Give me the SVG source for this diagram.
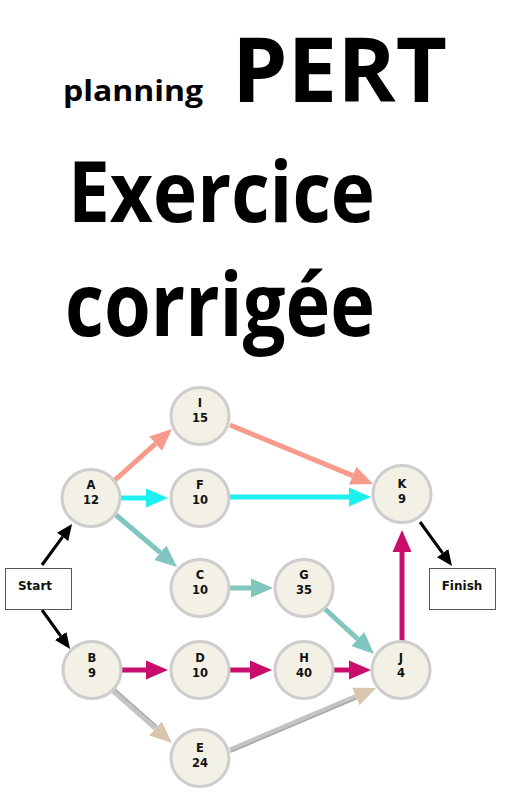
<svg xmlns="http://www.w3.org/2000/svg" width="510" height="809" viewBox="0 0 510 809">
<style>
.title{font-family:"Open Sans","Liberation Sans",Arial,sans-serif;font-weight:bold;fill:#000}
.node ellipse{fill:#f3f0e6;stroke:#cdcdcd;stroke-width:3}
.lbl{font-family:"DejaVu Sans",Verdana,sans-serif;font-weight:bold;font-size:11.5px;fill:#111;text-anchor:middle}
.box{fill:#fff;stroke:#555;stroke-width:1}
.boxt{font-family:"DejaVu Sans",Verdana,sans-serif;font-weight:bold;font-size:12px;fill:#111;text-anchor:middle}
.blk{stroke:#000;stroke-width:3;fill:none}
.sal{stroke:#f79a8a;stroke-width:5;fill:none}
.cya{stroke:#1ef0f0;stroke-width:5;fill:none}
.tea{stroke:#80c6be;stroke-width:5;fill:none}
.mag{stroke:#c90d6c;stroke-width:5;fill:none}
.gry{stroke:#c4c4c4;stroke-width:5;fill:none}
.gsh{stroke:#a6a6a6;stroke-width:1.5;fill:none}
</style>
<defs>
<marker id="mBlk" viewBox="0 -8 16 16" refX="0" refY="0" markerUnits="userSpaceOnUse" markerWidth="16" markerHeight="16" orient="auto"><path d="M0,-7 L16,0 L0,7 z" fill="#000"/></marker>
<marker id="mSal" viewBox="0 -10 22 20" refX="0" refY="0" markerUnits="userSpaceOnUse" markerWidth="22" markerHeight="20" orient="auto"><path d="M0,-9.5 L22,0 L0,9.5 z" fill="#f79a8a"/></marker>
<marker id="mCya" viewBox="0 -10 22 20" refX="0" refY="0" markerUnits="userSpaceOnUse" markerWidth="22" markerHeight="20" orient="auto"><path d="M0,-9.5 L22,0 L0,9.5 z" fill="#1ef0f0"/></marker>
<marker id="mTea" viewBox="0 -10 22 20" refX="0" refY="0" markerUnits="userSpaceOnUse" markerWidth="22" markerHeight="20" orient="auto"><path d="M0,-9.5 L22,0 L0,9.5 z" fill="#80c6be"/></marker>
<marker id="mMag" viewBox="0 -10 22 20" refX="0" refY="0" markerUnits="userSpaceOnUse" markerWidth="22" markerHeight="20" orient="auto"><path d="M0,-9.5 L22,0 L0,9.5 z" fill="#c90d6c"/></marker>
<marker id="mBei" viewBox="0 -10 22 20" refX="0" refY="0" markerUnits="userSpaceOnUse" markerWidth="22" markerHeight="20" orient="auto"><path d="M0,-9.5 L22,0 L0,9.5 z" fill="#d8c6af"/></marker>
</defs>
<rect width="510" height="809" fill="#fff"/>
<g id="title">
<text class="title" x="63" y="101" font-size="29" textLength="140" lengthAdjust="spacingAndGlyphs">planning</text>
<text class="title" x="232" y="102" font-size="90" textLength="215" lengthAdjust="spacingAndGlyphs">PERT</text>
<text class="title" x="68" y="222" font-size="84" textLength="307" lengthAdjust="spacingAndGlyphs">Exercice</text>
<text class="title" x="65" y="336" font-size="88" textLength="310" lengthAdjust="spacingAndGlyphs">corrigée</text>
</g>
<g id="connectors">
<line class="blk" x1="42" y1="565" x2="62.6" y2="536.9" marker-end="url(#mBlk)"/>
<line class="blk" x1="42" y1="610" x2="60.7" y2="636" marker-end="url(#mBlk)"/>
<line class="blk" x1="420" y1="522" x2="442.6" y2="553.1" marker-end="url(#mBlk)"/>
<line class="sal" x1="115" y1="480" x2="155.6" y2="443.7" marker-end="url(#mSal)"/>
<line class="cya" x1="121" y1="498" x2="146" y2="498" marker-end="url(#mCya)"/>
<line class="tea" x1="116" y1="515" x2="160.3" y2="552.7" marker-end="url(#mTea)"/>
<line class="sal" x1="230" y1="425" x2="352.7" y2="475.6" marker-end="url(#mSal)"/>
<line class="cya" x1="230" y1="497" x2="349" y2="497" marker-end="url(#mCya)"/>
<line class="mag" x1="402" y1="642" x2="402" y2="552" marker-end="url(#mMag)"/>
<line class="tea" x1="230" y1="588" x2="251" y2="588" marker-end="url(#mTea)"/>
<line class="tea" x1="325" y1="609" x2="357.8" y2="639.1" marker-end="url(#mTea)"/>
<line class="mag" x1="122" y1="670" x2="146" y2="670" marker-end="url(#mMag)"/>
<line class="mag" x1="230" y1="670" x2="250" y2="670" marker-end="url(#mMag)"/>
<line class="mag" x1="334" y1="670" x2="349" y2="670" marker-end="url(#mMag)"/>
<line class="gry" x1="113" y1="691" x2="155.5" y2="728.5" marker-end="url(#mBei)"/>
<line class="gsh" x1="115" y1="689" x2="157" y2="726"/>
<line class="gry" x1="230" y1="750" x2="355.8" y2="696.6" marker-end="url(#mBei)"/>
<line class="gsh" x1="231" y1="752" x2="356.5" y2="698.8"/>
</g>
<g id="start"><rect class="box" x="5.5" y="568.5" width="66" height="41"/><text class="boxt" x="35" y="590">Start</text></g>
<g id="finish"><rect class="box" x="429.5" y="568.5" width="66" height="41"/><text class="boxt" x="462" y="590">Finish</text></g>
<g id="nA" class="node"><ellipse cx="91" cy="498" rx="29" ry="28.5"/><text class="lbl" x="91" y="489">A</text><text class="lbl" x="91" y="504">12</text></g>
<g id="nI" class="node"><ellipse cx="200" cy="416" rx="29" ry="28.5"/><text class="lbl" x="200" y="407">I</text><text class="lbl" x="200" y="422">15</text></g>
<g id="nF" class="node"><ellipse cx="200" cy="498" rx="29" ry="28.5"/><text class="lbl" x="200" y="489">F</text><text class="lbl" x="200" y="504">10</text></g>
<g id="nC" class="node"><ellipse cx="200" cy="588" rx="29" ry="28.5"/><text class="lbl" x="200" y="579">C</text><text class="lbl" x="200" y="594">10</text></g>
<g id="nG" class="node"><ellipse cx="304" cy="588" rx="29" ry="28.5"/><text class="lbl" x="304" y="579">G</text><text class="lbl" x="304" y="594">35</text></g>
<g id="nK" class="node"><ellipse cx="402" cy="494" rx="29" ry="28.5"/><text class="lbl" x="402" y="488">K</text><text class="lbl" x="402" y="503">9</text></g>
<g id="nB" class="node"><ellipse cx="92" cy="670" rx="29" ry="28.5"/><text class="lbl" x="92" y="662">B</text><text class="lbl" x="92" y="677">9</text></g>
<g id="nD" class="node"><ellipse cx="200" cy="670" rx="29" ry="28.5"/><text class="lbl" x="200" y="662">D</text><text class="lbl" x="200" y="677">10</text></g>
<g id="nH" class="node"><ellipse cx="304" cy="670" rx="29" ry="28.5"/><text class="lbl" x="304" y="662">H</text><text class="lbl" x="304" y="677">40</text></g>
<g id="nJ" class="node"><ellipse cx="401" cy="670" rx="29" ry="28.5"/><text class="lbl" x="401" y="662">J</text><text class="lbl" x="401" y="677">4</text></g>
<g id="nE" class="node"><ellipse cx="200" cy="758" rx="29" ry="28.5"/><text class="lbl" x="200" y="752">E</text><text class="lbl" x="200" y="767">24</text></g>
</svg>
